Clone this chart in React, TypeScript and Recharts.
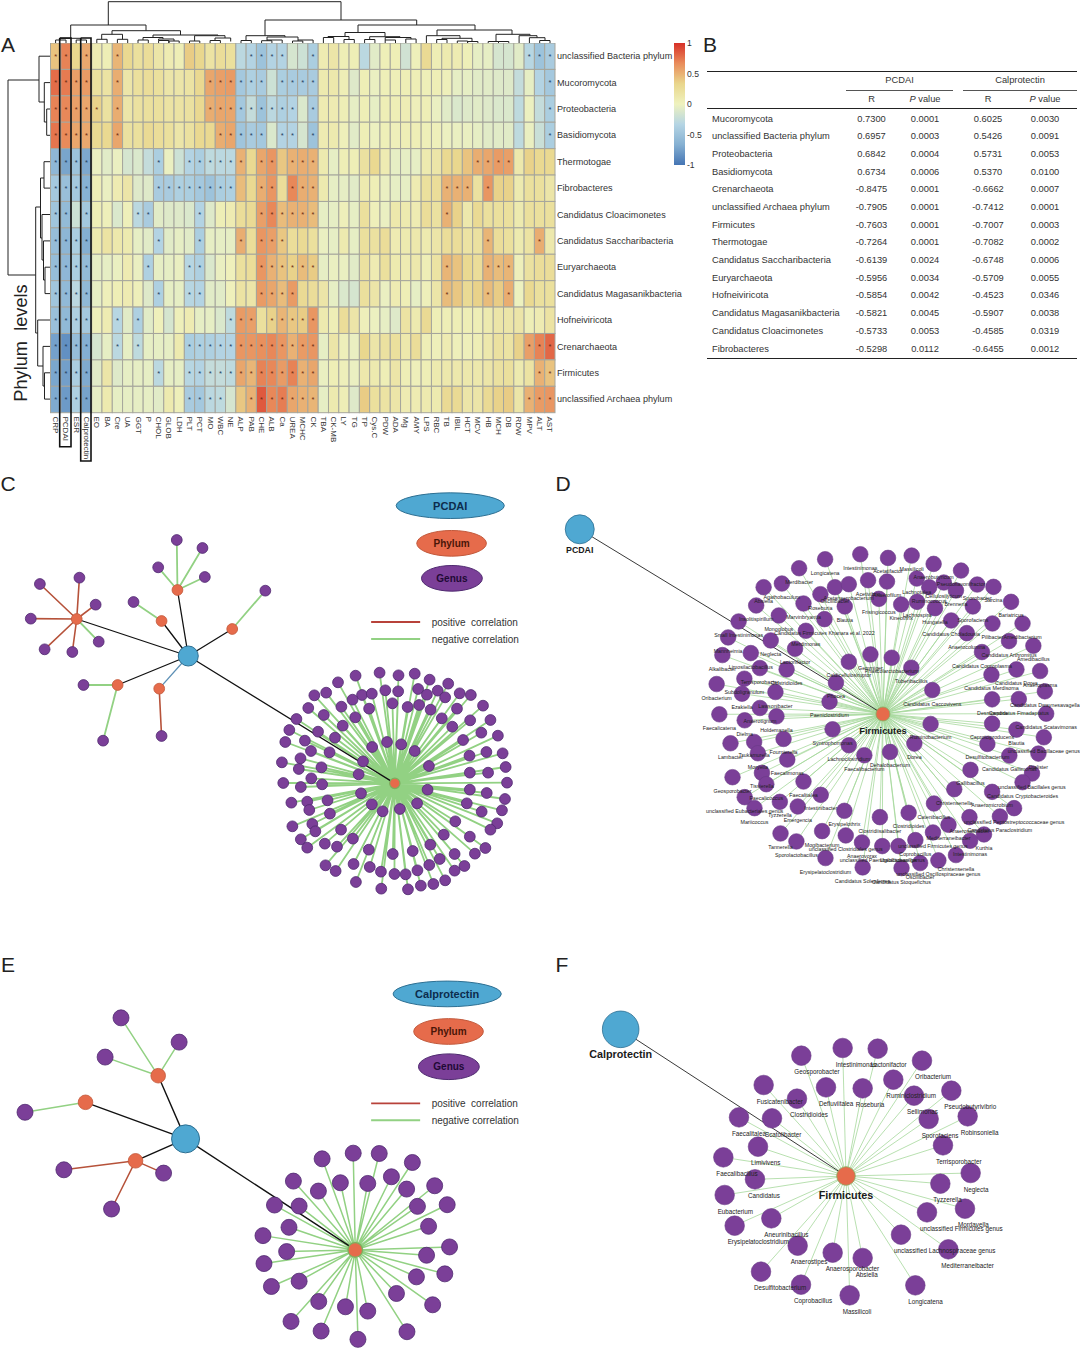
import {
  ComposedChart,
  Line,
  ReferenceArea,
  Scatter,
  ScatterChart,
  XAxis,
  YAxis,
} from "recharts";

const FONT = "'Liberation Sans', Arial, sans-serif";
const TEXT = "#333333";
const BLUE = "#4fa8d2";
const BLUE_EDGE = "#2d6f92";
const ORANGE = "#e66b4b";
const ORANGE_EDGE = "#c2583a";
const PURPLE = "#7b3f98";
const PURPLE_EDGE = "#4f2a70";
const GREEN = "#92d183";
const RED = "#b6523a";

// ---- panel A ----
const phyla = [
  "unclassified Bacteria phylum",
  "Mucoromycota",
  "Proteobacteria",
  "Basidiomycota",
  "Thermotogae",
  "Fibrobacteres",
  "Candidatus Cloacimonetes",
  "Candidatus Saccharibacteria",
  "Euryarchaeota",
  "Candidatus Magasanikbacteria",
  "Hofneiviricota",
  "Crenarchaeota",
  "Firmicutes",
  "unclassified Archaea phylum",
];

const indices = [
  "CRP", "PCDAI", "ESR", "Calprotectin", "EO", "BA", "Cre", "UA", "GGT", "P", "CHOL", "GLOB", "LDH",
  "PLT", "PCT", "MO", "WBC", "NE", "ALP", "PAB", "CHE", "ALB", "Ca", "UREA", "MCHC", "CK", "TBA",
  "CK-MB", "LY", "TG", "TP", "Cys.C", "PDW", "ADA", "Mg", "AMY", "LPS", "RBC", "TB", "IBIL", "HCT",
  "MCV", "HB", "MCH", "DB", "RDW", "MPV", "ALT", "AST",
];

// correlation x 100, one line per phylum
const corr = [
  [42, 70, 32, 54, 8, 5, 48, 30, 22, 25, 15, 8, 5, 38, 32, 18, 25, 22, -30, -35, -50, -35, -35, -15, -20, -40, 8, 15, 5, 5, -30, -8, 4, 5, -18, 3, 28, 6, 10, 8, 4, -5, -5, -15, -15, -8, -32, -50, -42],
  [78, 73, 58, 60, 22, 18, 52, 15, 22, 25, 22, 15, 15, 18, 30, 55, 58, 60, -45, -38, -42, -20, -40, -42, -42, -42, 10, 12, 5, -10, 5, -3, 4, 4, 5, 5, 4, 5, 3, -5, -5, -8, -8, -10, -10, -25, -5, -35, -45],
  [70, 68, 58, 55, 35, 20, 52, 15, 20, 22, 22, 18, 18, 20, 30, 52, 55, 55, -45, -25, -50, -30, -38, -35, -12, -42, 8, 8, 5, -5, 5, -5, 5, 5, 6, 3, 5, -3, -8, -12, -10, -8, -10, -12, -12, -28, -2, -25, -40],
  [75, 67, 55, 54, 30, 30, 55, 20, 22, 28, 25, 22, 15, 20, 30, 30, 52, 55, -48, -42, -45, -12, -35, -35, -15, -50, 8, 10, 3, -8, 5, -2, 4, 3, 5, 5, 4, 3, -2, -3, -3, -5, -8, -8, -8, -28, -3, -22, -40],
  [-60, -73, -50, -71, -3, -8, -3, -15, -12, -25, -40, -3, -20, -35, -40, -28, -30, -30, 50, 30, 55, 62, 40, 50, 52, 50, 10, -5, 5, 5, 20, 30, 8, -5, -5, -5, 10, 15, 30, 32, 42, 52, 55, 60, 58, 12, 35, 30, 30],
  [-45, -53, -45, -65, 5, -3, 8, 15, -10, -10, -42, -42, -38, -40, -45, -50, -40, -38, 45, 30, 52, 62, 25, 68, 52, 50, 10, -5, -5, -8, 10, 5, -3, -5, -5, 8, 22, 25, 50, 50, 50, 20, 62, 35, 35, 10, 22, 22, 15],
  [-48, -57, -20, -46, 5, 3, -12, 3, -30, -42, -8, -10, -10, -12, -35, -10, 5, 8, 25, 28, 58, 68, 45, 50, 50, 45, -5, -5, 3, -5, 22, 3, -3, 12, 10, 8, 25, 20, 50, 35, 12, 28, 22, 22, 22, 10, 22, 22, 22],
  [-55, -61, -40, -67, 10, 18, 12, 10, -5, -8, -35, -8, -5, -8, -40, -5, -5, -5, 52, 25, 62, 58, 40, 25, 28, 22, -3, -5, 10, -5, 22, 20, 25, 8, 10, 12, 10, 15, 25, 25, 18, 20, 48, 25, 22, 10, 18, 52, 12],
  [-55, -60, -40, -57, -5, -5, -3, 8, -3, -38, -5, -5, -3, -32, -38, -12, -3, 2, 22, 25, 62, 50, 42, 35, 45, 38, -5, -3, -3, -8, 20, 8, 22, 10, 8, 12, 5, 18, 48, 42, 30, 25, 50, 45, 48, 3, 20, 25, 25],
  [-48, -58, -30, -59, -5, 3, 5, 8, 3, -10, -38, -5, -5, -32, -35, -8, -8, 2, 18, 15, 60, 55, 45, 60, 28, 25, 15, -5, -12, -15, 22, 15, -3, 8, 5, -5, 3, 15, 45, 40, 28, 35, 45, 38, 52, -1, 30, 22, 22],
  [-52, -59, -38, -45, 3, 8, -32, -8, -38, -8, 2, -15, 3, 8, -5, -5, -12, -28, 60, 58, 22, 35, 48, 40, 38, 62, 10, 5, 25, 15, 3, -2, -5, -10, 18, 10, 28, 5, 5, 5, 5, 5, 10, 15, 15, 15, 5, 8, 18],
  [-75, -85, -55, -67, -15, -5, -30, -5, -28, -5, -5, -5, 10, -40, -38, -38, -35, -35, 62, 62, 65, 68, 62, 50, 60, 62, -5, 15, 3, -3, 32, 15, 20, 22, 12, 25, 5, 3, 8, 3, 3, 5, 12, 20, 18, 35, 58, 70, 80],
  [-72, -76, -40, -70, -8, 15, -10, -5, -5, -5, -30, -5, -5, -32, -35, -25, -25, -28, 55, 48, 70, 68, 60, 70, 50, 55, -3, 5, 3, -3, 12, 10, 5, 15, 5, 3, 5, 10, 12, 12, 12, 12, 15, 20, 22, 10, 18, 50, 42],
  [-70, -79, -38, -74, -5, 10, -5, -5, -5, -5, -8, 10, 3, -42, -45, -30, -28, -15, 40, 50, 85, 68, 72, 55, 50, 48, -5, 10, 5, -10, 38, 22, 18, 15, 8, 8, 10, 10, 28, 28, 15, 15, 28, 35, 38, 15, 50, 60, 62],
];

// columns carrying a star, per phylum
const starred = [
  [0, 1, 3, 6, 19, 20, 21, 22, 25, 46, 47, 48],
  [0, 1, 2, 3, 6, 15, 16, 17, 18, 19, 20, 22, 23, 24, 25, 48],
  [0, 1, 2, 3, 4, 6, 15, 16, 17, 18, 19, 20, 21, 22, 23, 25, 48],
  [0, 1, 2, 3, 6, 16, 17, 18, 19, 20, 22, 23, 25, 48],
  [0, 1, 2, 3, 10, 13, 14, 15, 16, 17, 18, 20, 21, 23, 24, 25, 41, 42, 43, 44],
  [0, 1, 2, 3, 10, 11, 12, 13, 14, 15, 16, 17, 20, 21, 23, 24, 25, 38, 39, 40, 42],
  [0, 1, 3, 8, 9, 14, 20, 21, 22, 23, 24, 25, 38],
  [0, 1, 2, 3, 10, 14, 18, 20, 21, 22, 42, 47],
  [0, 1, 2, 3, 9, 13, 14, 20, 21, 22, 23, 24, 25, 38, 42, 43, 44],
  [0, 1, 2, 3, 10, 13, 14, 20, 21, 22, 23, 38, 42, 44],
  [0, 1, 2, 3, 6, 8, 17, 18, 19, 21, 22, 23, 24, 25],
  [0, 1, 2, 3, 6, 8, 13, 14, 15, 16, 17, 18, 19, 20, 21, 22, 23, 24, 25, 46, 47, 48],
  [0, 1, 2, 3, 10, 13, 14, 15, 16, 17, 18, 19, 20, 21, 22, 23, 24, 25, 47, 48],
  [0, 1, 2, 3, 13, 14, 15, 16, 19, 20, 21, 22, 23, 24, 25, 46, 47, 48],
];

const colorStops = ["#4575b4", "#85b0d2", "#b5d5e4", "#eff2be", "#e9d68c", "#e98c5b", "#d73027"];
const colorbarTicks = [-1, -0.5, 0, 0.5, 1];

// [x left, x right, y bar, y left foot, y right foot]
const topTree = [
  [108.3, 341, 1.7, 25, 20],
  [70.7, 146, 25, 38.3, 30.7],
  [60, 81, 38.3, 40, 40],
  [55.6, 66, 40, 43, 43],
  [76.2, 86.5, 40, 43, 43],
  [112, 180.5, 30.7, 34.3, 35],
  [101.7, 122.5, 34.3, 39.3, 39.3],
  [96.8, 107.1, 39.3, 43, 43],
  [117.4, 127.7, 39.3, 43, 43],
  [153, 218, 35, 37.5, 35.7],
  [143, 163, 37.5, 40, 39],
  [138, 148.3, 40, 43, 43],
  [158.6, 174, 39, 40.5, 41],
  [158.6, 168.9, 40.5, 43, 43],
  [168.9, 179.2, 41, 43, 43],
  [194.6, 225, 35.7, 41, 38],
  [189.5, 199.8, 41, 43, 43],
  [215, 230.7, 38, 40.5, 41.5],
  [210.1, 220.4, 40.5, 43, 43],
  [265, 416.7, 20, 35.7, 25],
  [246, 285, 35.7, 40.5, 37],
  [241, 251.3, 40.5, 43, 43],
  [267, 298, 37, 40, 40],
  [261.6, 271.9, 40.7, 43, 43],
  [282.2, 267, 40, 43, 40.7],
  [292.5, 302.8, 41, 43, 43],
  [298, 313.1, 40, 41, 43],
  [358, 475, 25, 32.5, 30],
  [345, 385, 32.5, 36.5, 36.5],
  [328, 349, 36.5, 37.5, 39.5],
  [323.4, 333.7, 37.5, 43, 43],
  [344, 354.3, 39.5, 43, 43],
  [369.7, 400, 36.7, 39.5, 37.5],
  [364.6, 374.9, 39.5, 43, 43],
  [385.2, 411, 37.5, 40, 39],
  [385.2, 395.5, 40, 43, 43],
  [405.8, 416.1, 39, 43, 43],
  [437, 512, 30, 35.7, 34.3],
  [426.4, 460, 35.7, 43, 38.3],
  [442, 472, 38.3, 39.5, 41.5],
  [436.7, 447, 39.5, 43, 43],
  [457.3, 467.6, 41, 43, 43],
  [467.6, 477.9, 41.5, 43, 43],
  [496, 530, 34.3, 41, 35.7],
  [488.2, 498.5, 41.5, 43, 43],
  [498.5, 508.8, 41.5, 43, 43],
  [519.1, 537, 35.7, 43, 37.7],
  [529.4, 545, 37.7, 43, 40.5],
  [539.7, 550, 40.5, 43, 43],
];

// [y top, y bottom, x bar, x top foot, x bottom foot]
const leftTree = [
  [80, 275, 8, 39, 35.7],
  [56.2, 102, 39, 50, 44.3],
  [82.6, 122, 44.3, 50, 46.7],
  [109, 135.3, 46.7, 50, 50],
  [207, 333, 35.7, 40.5, 37.7],
  [178, 238, 40.5, 44, 42],
  [161.7, 188.1, 44, 50, 50],
  [214.5, 260, 42, 50, 43.5],
  [240.9, 280, 43.5, 50, 45],
  [267.2, 293.6, 45, 50, 50],
  [320, 366, 37.7, 50, 43],
  [346.4, 386, 43, 50, 44.5],
  [372.8, 399.1, 44.5, 50, 50],
];

// outlines around the PCDAI and Calprotectin columns
const columnBoxes = [
  [59.7, 71, 38, 446.7],
  [80.7, 91, 38, 461],
];

// ---- panel B ----
const tablePhyla = [
  "Mucoromycota", "unclassified Bacteria phylum", "Proteobacteria", "Basidiomycota", "Crenarchaeota",
  "unclassified Archaea phylum", "Firmicutes", "Thermotogae", "Candidatus Saccharibacteria", "Euryarchaeota",
  "Hofneiviricota", "Candidatus Magasanikbacteria", "Candidatus Cloacimonetes", "Fibrobacteres",
];
const pcdaiR = ["0.7300", "0.6957", "0.6842", "0.6734", "-0.8475", "-0.7905", "-0.7603", "-0.7264", "-0.6139", "-0.5956", "-0.5854", "-0.5821", "-0.5733", "-0.5298"];
const pcdaiP = ["0.0001", "0.0003", "0.0004", "0.0006", "0.0001", "0.0001", "0.0001", "0.0001", "0.0024", "0.0034", "0.0042", "0.0045", "0.0053", "0.0112"];
const calR = ["0.6025", "0.5426", "0.5731", "0.5370", "-0.6662", "-0.7412", "-0.7007", "-0.7082", "-0.6748", "-0.5709", "-0.4523", "-0.5907", "-0.4585", "-0.6455"];
const calP = ["0.0030", "0.0091", "0.0053", "0.0100", "0.0007", "0.0001", "0.0003", "0.0002", "0.0006", "0.0055", "0.0346", "0.0038", "0.0319", "0.0012"];

// ---- panel C ----
const cHub = [557, 558];
const cPhylum1 = [227, 447];
const cPhylum1Red = [[118, 342], [235, 323], [283, 404], [91, 446], [214, 546], [132, 538]];
const cPhylum1Green = [[292, 515]];
const cPhylum2 = [525, 360];
const cPhylum2Leaves = [[523, 210], [599, 234], [468, 292], [606, 321]];
const cPhylum3 = [478, 453];
const cPhylum3Leaves = [[395, 396]];
const cPhylum4 = [687, 477];
const cPhylum4Leaves = [[785, 362]];
const cPhylum5 = [348, 645];
const cPhylum5Leaves = [[247, 645], [305, 812]];
const cPhylum6 = [471, 656];
const cPhylum6Leaves = [[478, 798]];
const cFirmicutes = [1168, 940];
const cFirmicutesLeaves = [
  [1123, 608], [1179, 616], [1227, 611], [1052, 617], [1271, 629], [1326, 641], [1000, 637],
  [930, 676], [965, 668], [1071, 675], [1100, 671], [1140, 661], [1178, 664], [1237, 657], [1263, 674], [1295, 662], [1317, 682], [1360, 670], [1393, 675],
  [1043, 689], [1161, 700], [912, 714], [1010, 710], [1092, 716], [1206, 711], [1240, 705], [1274, 719], [1352, 716], [1429, 707],
  [958, 735], [1051, 742], [1307, 745], [1391, 751], [1451, 750], [877, 747],
  [1014, 767], [1338, 770], [856, 780], [941, 785], [1424, 788], [1473, 797],
  [844, 816], [902, 812], [991, 803], [1370, 810], [1145, 816], [1187, 823], [1101, 831], [1227, 843],
  [920, 843], [975, 847], [1439, 846], [1487, 850], [1389, 857],
  [889, 865], [834, 877], [1074, 874], [884, 897], [951, 892], [1269, 888], [1496, 891],
  [1061, 913], [1390, 908], [1444, 908],
  [921, 925], [838, 939], [953, 943], [890, 951], [1500, 938], [1390, 959], [1265, 959],
  [1068, 970], [1440, 969], [1494, 987], [969, 991], [909, 995], [862, 998], [1381, 1000], [1234, 1000],
  [1100, 1003], [915, 1020], [976, 1031], [1132, 1024], [1183, 1017], [1425, 1025], [1485, 1021],
  [1347, 1054], [924, 1062], [865, 1069], [1471, 1060], [933, 1084], [1451, 1079], [1009, 1079],
  [1313, 1094], [1390, 1100], [890, 1108], [1044, 1106], [961, 1121], [909, 1133], [997, 1130], [1273, 1124], [1436, 1134],
  [1091, 1139], [1162, 1152], [1221, 1143], [1405, 1151], [1345, 1152], [1301, 1167],
  [963, 1186], [1046, 1182], [993, 1203], [1094, 1191], [1270, 1185], [1374, 1188], [1345, 1202], [1127, 1205], [1167, 1212], [1200, 1213], [1235, 1201],
  [1053, 1236], [1128, 1256], [1207, 1258], [1245, 1247], [1282, 1242], [1317, 1231],
];

// ---- panel D ----
const dHub = [88, 88];
const dFirmicutes = [985, 643];
const dGenera: [number, number, string][] = [
  [814, 178, "Longicatena"], [918, 163, "Intestinimonas"], [1000, 174, "Acetatifactor"], [1070, 167, "Massilicoli"],
  [1135, 192, "Anaerobutyricum"], [1216, 212, "Pseudoflavonifractor"], [737, 205, "Merdibacter"], [686, 251, "Agathobaculum"],
  [632, 262, "Absiella"], [843, 262, "Oscillibacter"], [884, 253, "Acetanaerobacterium"], [941, 241, "Acetivibrio"],
  [997, 245, "Anaerofilum"], [800, 283, "Roseburia"], [1085, 236, "Lachnotalea"], [1122, 262, "Ruminococcus"],
  [1165, 248, "Cellulosilyticum"], [1201, 272, "Brenneria"], [1264, 254, "Sporobacter"], [1312, 261, "Sarcina"],
  [610, 317, "Insolitispirillum"], [750, 311, "Marvinbryantia"], [872, 320, "Blautia"], [973, 297, "Frisingicoccus"],
  [1039, 314, "Kineothrix"], [1086, 306, "Lachnospira"], [1139, 325, "Hungatella"], [1251, 320, "Sporofaciens"],
  [1364, 306, "Bariatricus"], [677, 347, "Monoglobus"], [812, 358, "Candidatus Firmicutes Khanara et al. 2022"], [558, 365, "Small Intestinimonas"],
  [1187, 362, "Candidatus Choladousia"], [757, 393, "Merdimonas"], [1309, 371, "Pilibacter"], [1398, 371, "Amedibacterium"],
  [1233, 400, "Anaerocolumna"], [527, 413, "Mannheimia"], [653, 422, "Neglecta"], [725, 447, "Lactonifactor"],
  [1358, 424, "Candidatus Arthromitus"], [1430, 438, "Amedibacillus"], [510, 466, "Alkalibacter"], [594, 460, "Limosilactobacillus"],
  [1278, 457, "Candidatus Coproplasma"], [884, 486, "Caldicellulosiruptor"], [948, 464, "Gemmiger"], [1011, 474, "Phascolarctobacterium"],
  [1069, 504, "Tuberibacillus"], [621, 505, "Terrisporobacter"], [700, 509, "Clostridioides"], [1380, 509, "Candidatus Dorea"],
  [1450, 514, "Anaeroplasma"], [1306, 525, "Candidatus Merdisoma"], [575, 537, "Subdoligranulum"], [846, 549, "Phocea"],
  [493, 553, "Oribacterium"], [667, 577, "Lawsonibacter"], [1131, 571, "Candidatus Caccovivens"], [568, 582, "Ezakiella"],
  [1464, 575, "Candidatus Dwaynesavagella"], [1308, 599, "Desmospora"], [1387, 598, "Candidatus Fimadaptatus"], [827, 606, "Paeniclostridium"],
  [621, 625, "Anaerotignum"], [670, 650, "Holdemanella"], [501, 644, "Faecalicatena"], [1468, 642, "Candidatus Scatavimonas"],
  [576, 662, "Dielma"], [1308, 672, "Caproiciproducens"], [1126, 673, "Ruminobacterium"], [1380, 690, "Blautia"],
  [836, 689, "Syntrophomonas"], [691, 718, "Fournierella"], [534, 731, "Lambacter"], [604, 727, "Tsukamurella"],
  [1461, 713, "unclassified Bacillaceae genus"], [884, 737, "Lachnoclostridium"], [1078, 732, "Dorea"], [1294, 733, "Desulfitobacterium"],
  [615, 761, "Moryella"], [1006, 757, "Dehalobacterium"], [930, 767, "Faecalibacterium"], [702, 780, "Faecalimonas"],
  [1359, 768, "Candidatus Gallimonas"], [1445, 762, "Dialister"], [1244, 811, "Gallibacillus"], [540, 833, "Geosporobacter"],
  [627, 820, "Tissierella"], [1426, 822, "unclassified Bacillales genus"], [640, 854, "Faecalicoccus"], [750, 846, "Faecalitalea"],
  [1398, 848, "Candidatus Cryptobacteroides"], [1196, 869, "Christensenella"], [1308, 877, "Anaeromicrobium"], [801, 886, "Intestinibacter"],
  [576, 893, "unclassified Eubacteriales genus"], [680, 907, "Tyzzerella"], [1373, 926, "unclassified Peptostreptococcaceae genus"], [1136, 912, "Catenibacillus"],
  [733, 921, "Emergencia"], [605, 926, "Mariicoccus"], [871, 934, "Erysipelothrix"], [1061, 940, "Clostridioides"],
  [1331, 951, "Candidatus Paraclostridium"], [976, 953, "Clostridiisalibacter"], [1241, 953, "Anaerosalibacter"], [1179, 976, "Mediterraneibacter"],
  [682, 1002, "Tannerella"], [805, 995, "Mogibacterium"], [875, 1008, "unclassified Clostridiales genus"], [1133, 999, "unclassified Firmicutes genus"],
  [1284, 1005, "Kurthia"], [729, 1026, "Sporolactobacillus"], [923, 1029, "Anaerovorax"], [1243, 1024, "Intestinimonas"],
  [1081, 1022, "Coprobacillus"], [983, 1040, "unclassified Paenibacillaceae genus"], [1031, 1040, "Ligilactobacillus"], [1201, 1067, "Christensenella"],
  [815, 1076, "Erysipelatoclostridium"], [1149, 1083, "unclassified Oscillospiraceae genus"], [1095, 1091, "Oscillibacter"], [925, 1104, "Candidatus Soleaferrea"],
  [1040, 1106, "Candidatus Stoquefichus"],
];

// ---- panel E ----
const eHub = [549, 538];
const ePhylum1 = [468, 348];
const ePhylum1Leaves = [[358, 174], [530, 247], [311, 292]];
const ePhylum2 = [253, 428];
const ePhylum2Leaves = [[74, 458]];
const ePhylum3 = [401, 604];
const ePhylum3Leaves = [[189, 631], [484, 641], [330, 749]];
const eFirmicutes = [1051, 872];
const eFirmicutesLeaves = [
  [953, 598], [1045, 581], [1122, 582], [1220, 609], [868, 665], [1007, 670], [1088, 672], [1158, 652], [942, 695], [1203, 689], [1286, 679],
  [812, 737], [885, 740], [1235, 741], [1323, 736], [855, 804], [1268, 801], [778, 829], [848, 877], [1330, 863], [1262, 888], [781, 913],
  [885, 966], [1232, 953], [1316, 944], [803, 982], [1173, 1003], [943, 1027], [1022, 1043], [1088, 1056], [1280, 1037], [861, 1087], [950, 1116], [1059, 1141], [1204, 1118],
];

// ---- panel F ----
const fHub = [182, 88];
const fFirmicutes = [858, 528];
const fGenera: [number, number, string][] = [
  [724, 167, "Geosporobacter"], [848, 144, "Intestinimonas"], [953, 146, "Lactonifactor"], [1086, 182, "Oribacterium"],
  [611, 255, "Fusicatenibacter"], [711, 296, "Clostridioides"], [798, 262, "Defluviitalea"], [908, 265, "Roseburia"],
  [1000, 239, "Ruminiclostridium"], [1062, 287, "Sellimonas"], [1174, 272, "Pseudobutyrivibrio"], [537, 352, "Faecalitalea"],
  [636, 355, "Scatolibacter"], [1106, 357, "Sporofaciens"], [1223, 349, "Robinsoniella"], [594, 440, "Limivivens"],
  [490, 472, "Faecalibacillus"], [1149, 436, "Terrisporobacter"], [585, 538, "Candidatus"], [1232, 519, "Neglecta"],
  [494, 585, "Eubacterium"], [1141, 551, "Tyzzerella"], [634, 655, "Aneurinibacillus"], [524, 677, "Erysipelatoclostridium"],
  [1101, 637, "unclassified Firmicutes genus"], [1215, 626, "Mordavella"], [713, 737, "Anaerostipes"], [1023, 704, "unclassified Lachnospiraceae genus"],
  [818, 758, "Anaerosporobacter"], [908, 774, "Absiella"], [1165, 748, "Mediterraneibacter"], [603, 815, "Desulfitobacterium"],
  [723, 854, "Coprobacillus"], [869, 886, "Massilicoli"], [1066, 856, "Longicatena"],
];

// letters and rotated title, page pixels
const pageLabels: [number, number, string][] = [
  [8, 44, "A"], [710, 44, "B"], [8, 483, "C"], [563, 483, "D"], [8, 964, "E"], [562, 964, "F"],
];

function mix(a: string, b: string, t: number) {
  const ch = (s: string, i: number) => parseInt(s.slice(i, i + 2), 16);
  const part = (i: number) => Math.round(ch(a, i) + (ch(b, i) - ch(a, i)) * t);
  return `rgb(${part(1)},${part(3)},${part(5)})`;
}

function corrColor(v: number) {
  const p = ((Math.max(-1, Math.min(1, v)) + 1) / 2) * (colorStops.length - 1);
  const i = Math.min(Math.floor(p), colorStops.length - 2);
  return mix(colorStops[i], colorStops[i + 1], p - i);
}

const pts = (list: number[][]) => list.map(([x, y]) => ({ x, y }));

// hub -> each leaf, with a null point to lift the pen
function star(center: number[], leaves: number[][]) {
  return leaves.flatMap(([x, y]) => [
    { x: center[0], y: center[1] },
    { x, y },
    { x, y: null as number | null },
  ]);
}

const dot = (r: number, fill: string, stroke: string, sw = 1) => (p: any) =>
  <circle cx={p.cx} cy={p.cy} r={r} fill={fill} stroke={stroke} strokeWidth={sw} />;

const edge = (data: any[], stroke: string, width: number, key: string) => (
  <Line
    key={key}
    data={data}
    dataKey="y"
    stroke={stroke}
    strokeWidth={width}
    dot={false}
    activeDot={false}
    connectNulls={false}
    isAnimationActive={false}
    legendType="none"
  />
);

const axes = (w: number, h: number) => [
  <XAxis key="x" hide type="number" dataKey="x" domain={[0, w]} allowDataOverflow />,
  <YAxis key="y" hide type="number" dataKey="y" domain={[0, h]} reversed allowDataOverflow />,
];

const chartBox = (left: number, top: number): React.CSSProperties => ({ position: "absolute", left, top });

function Heatmap() {
  const cellW = 504.5 / indices.length;
  const cellH = 369.7 / phyla.length;
  const cells = corr.flatMap((row, r) => row.map((v, c) => ({ c, r, v: v / 100 })));
  const stars = starred.flatMap((cols, r) => cols.map((c) => ({ c, r, v: corr[r][c] })));
  return (
    <div style={chartBox(50, 43)}>
      <ScatterChart width={640} height={420} margin={{ top: 0, right: 0, bottom: 0, left: 0.5 }}>
        <XAxis
          type="number"
          dataKey="c"
          domain={[-0.5, 48.5]}
          ticks={indices.map((_, i) => i)}
          interval={0}
          height={50.3}
          axisLine={false}
          tickLine={false}
          tick={(p: any) => (
            <text
              x={p.x}
              y={p.y}
              transform={`rotate(90 ${p.x} ${416.5 - 43}) translate(0 ${416.5 - 43 - p.y})`}
              textAnchor="start"
              dominantBaseline="central"
              fontSize={8}
              fill={TEXT}
              fontFamily={FONT}
            >
              {indices[p.payload.value]}
            </text>
          )}
        />
        <YAxis
          type="number"
          dataKey="r"
          orientation="right"
          reversed
          domain={[-0.5, 13.5]}
          ticks={phyla.map((_, i) => i)}
          interval={0}
          width={135}
          axisLine={false}
          tickLine={false}
          tick={(p: any) => (
            <text x={p.x - 6} y={p.y} dominantBaseline="central" fontSize={9.1} fill={TEXT} fontFamily={FONT}>
              {phyla[p.payload.value]}
            </text>
          )}
        />
        <Scatter
          data={cells}
          isAnimationActive={false}
          shape={(p: any) => (
            <rect
              x={p.cx - cellW / 2}
              y={p.cy - cellH / 2}
              width={cellW}
              height={cellH}
              fill={corrColor(p.payload.v)}
              stroke="#a5a59c"
              strokeWidth={1}
            />
          )}
        />
        <Scatter
          data={stars}
          isAnimationActive={false}
          shape={(p: any) => (
            <text
              x={p.cx}
              y={p.cy + 2.8}
              textAnchor="middle"
              fontSize={7.5}
              fill={p.payload.v < 0 ? "#23405f" : "#6b2a10"}
              fontFamily={FONT}
            >
              *
            </text>
          )}
        />
      </ScatterChart>
    </div>
  );
}

function Colorbar() {
  return (
    <div style={chartBox(674, 37)}>
      <ComposedChart width={44} height={134} margin={{ top: 6, right: 0, bottom: 6, left: 0 }} data={[{ x: 0, y: 0 }]}>
        <defs>
          <linearGradient id="corrRamp" x1="0" y1="1" x2="0" y2="0">
            {colorStops.map((c, i) => (
              <stop key={c} offset={i / (colorStops.length - 1)} stopColor={c} />
            ))}
          </linearGradient>
        </defs>
        <XAxis hide type="number" dataKey="x" domain={[0, 1]} />
        <YAxis
          type="number"
          dataKey="y"
          orientation="right"
          width={33}
          domain={[-1, 1]}
          ticks={colorbarTicks}
          interval={0}
          axisLine={false}
          tickLine={false}
          tickSize={0}
          tickMargin={2}
          tickFormatter={(v: number) => String(v)}
          tick={{ fontSize: 8.6, fill: TEXT, fontFamily: FONT }}
        />
        <ReferenceArea x1={0} x2={1} y1={-1} y2={1} fill="url(#corrRamp)" fillOpacity={1} stroke="none" />
      </ComposedChart>
    </div>
  );
}

// dendrograms, column outlines and the page letters sit on one page-sized chart
function PageOverlay() {
  const gap = (x: number) => ({ x, y: null as number | null });
  const topPath = topTree.flatMap(([xa, xb, bar, ya, yb]) => [
    { x: xa, y: ya }, { x: xa, y: bar }, { x: xb, y: bar }, { x: xb, y: yb }, gap(xb),
  ]);
  const leftPath = leftTree.flatMap(([ya, yb, bar, xa, xb]) => [
    { x: xa, y: ya }, { x: bar, y: ya }, { x: bar, y: yb }, { x: xb, y: yb }, gap(xb),
  ]);
  const boxPath = columnBoxes.flatMap(([xa, xb, ya, yb]) => [
    { x: xa, y: ya }, { x: xb, y: ya }, { x: xb, y: yb }, { x: xa, y: yb }, { x: xa, y: ya }, gap(xa),
  ]);
  const letters = pageLabels.map(([x, y, t]) => ({ x, y, t }));
  return (
    <div style={chartBox(0, 0)}>
      <ComposedChart width={1080} height={1350} margin={{ top: 0, right: 0, bottom: 0, left: 0 }}>
        {axes(1080, 1350)}
        {edge(topPath, "#222222", 1, "top")}
        {edge(leftPath, "#222222", 1, "left")}
        {edge(boxPath, "#111111", 1.6, "boxes")}
        <Scatter
          data={letters}
          isAnimationActive={false}
          shape={(p: any) => (
            <text x={p.cx} y={p.cy} textAnchor="middle" dominantBaseline="central" fontSize={21} fill="#222" fontFamily={FONT}>
              {p.payload.t}
            </text>
          )}
        />
        <Scatter
          data={[{ x: 21, y: 343 }]}
          isAnimationActive={false}
          shape={(p: any) => (
            <text
              x={p.cx}
              y={p.cy}
              transform={`rotate(-90 ${p.cx} ${p.cy})`}
              textAnchor="middle"
              dominantBaseline="central"
              fontSize={18.2}
              fill="#222"
              fontFamily={FONT}
              style={{ whiteSpace: "pre" }}
            >
              {"Phylum  levels"}
            </text>
          )}
        />
      </ComposedChart>
    </div>
  );
}

function StatsTable() {
  const cell: React.CSSProperties = { padding: 0, textAlign: "center", height: 17.7 };
  return (
    <table
      style={{
        position: "absolute",
        left: 707,
        top: 71,
        width: 370,
        tableLayout: "fixed",
        borderCollapse: "separate",
        borderSpacing: 0,
        fontFamily: FONT,
        fontSize: 9.3,
        color: TEXT,
        lineHeight: 1,
        borderTop: "1.2px solid #222",
        borderBottom: "1.2px solid #222",
      }}
    >
      <colgroup>
        <col style={{ width: 139 }} />
        <col style={{ width: 51 }} />
        <col style={{ width: 56 }} />
        <col style={{ width: 10 }} />
        <col style={{ width: 50 }} />
        <col style={{ width: 64 }} />
      </colgroup>
      <thead>
        <tr style={{ height: 18.6 }}>
          <th style={{ padding: 0 }} />
          <th colSpan={2} style={{ ...cell, fontWeight: 400, borderBottom: "1px solid #555" }}>PCDAI</th>
          <th style={{ padding: 0 }} />
          <th colSpan={2} style={{ ...cell, fontWeight: 400, borderBottom: "1px solid #555" }}>Calprotectin</th>
        </tr>
        <tr style={{ height: 18.6 }}>
          {["", "R", "P", "", "R", "P"].map((h, i) => (
            <th key={i} style={{ ...cell, fontWeight: 400, borderBottom: "1.5px solid #222" }}>
              {h === "P" ? (
                <span>
                  <i>P</i> value
                </span>
              ) : (
                h
              )}
            </th>
          ))}
        </tr>
        <tr style={{ height: 1 }}>
          <th style={{ padding: 0, height: 1 }} colSpan={6} />
        </tr>
      </thead>
      <tbody>
        {tablePhyla.map((name, i) => (
          <tr key={name}>
            <td style={{ ...cell, textAlign: "left", paddingLeft: 5, whiteSpace: "nowrap" }}>{name}</td>
            <td style={cell}>{pcdaiR[i]}</td>
            <td style={cell}>{pcdaiP[i]}</td>
            <td style={cell} />
            <td style={cell}>{calR[i]}</td>
            <td style={cell}>{calP[i]}</td>
          </tr>
        ))}
      </tbody>
    </table>
  );
}

// legend block shared by panels C and E (ellipses and the two line keys)
function legendParts(first: string, ys: number[], lineYs: number[], cx: number, k: number) {
  const ellipses = [
    { x: cx, y: ys[0], rx: 160, fill: BLUE, stroke: BLUE_EDGE, color: "#0d2c4d", t: first, s: 11 },
    { x: cx + 4, y: ys[1], rx: 103, fill: ORANGE, stroke: ORANGE_EDGE, color: "#4a1608", t: "Phylum", s: 10 },
    { x: cx + 5, y: ys[2], rx: 90, fill: PURPLE, stroke: PURPLE_EDGE, color: "#1f0a35", t: "Genus", s: 10 },
  ];
  const keys = [
    { x: 1277, y: lineYs[0], t: "positive  correlation" },
    { x: 1277, y: lineYs[1], t: "negative correlation" },
  ];
  return [
    edge([{ x: 1098, y: lineYs[0] }, { x: 1243, y: lineYs[0] }], "#b8423a", 1.8, "keyRed"),
    edge([{ x: 1098, y: lineYs[1] }, { x: 1243, y: lineYs[1] }], GREEN, 1.8, "keyGreen"),
    <Scatter
      key="ellipses"
      data={ellipses}
      isAnimationActive={false}
      shape={(p: any) => (
        <g>
          <ellipse cx={p.cx} cy={p.cy} rx={p.payload.rx * k} ry={38 * k} fill={p.payload.fill} stroke={p.payload.stroke} />
          <text x={p.cx} y={p.cy} textAnchor="middle" dominantBaseline="central" fontSize={p.payload.s} fontWeight={700} fill={p.payload.color} fontFamily={FONT}>
            {p.payload.t}
          </text>
        </g>
      )}
    />,
    <Scatter
      key="keys"
      data={keys}
      isAnimationActive={false}
      shape={(p: any) => (
        <text x={p.cx} y={p.cy} dominantBaseline="central" fontSize={10} fill={TEXT} fontFamily={FONT} style={{ whiteSpace: "pre" }}>
          {p.payload.t}
        </text>
      )}
    />,
  ];
}

function PanelC() {
  const k = 530 / 1568;
  const phylumNodes = [cPhylum1, cPhylum2, cPhylum3, cPhylum4, cPhylum5, cPhylum6];
  const greenEdges = [
    ...star(cFirmicutes, cFirmicutesLeaves),
    ...star(cPhylum1, cPhylum1Green),
    ...star(cPhylum2, cPhylum2Leaves),
    ...star(cPhylum3, cPhylum3Leaves),
    ...star(cPhylum4, cPhylum4Leaves),
    ...star(cPhylum5, cPhylum5Leaves),
  ];
  const redEdges = [...star(cPhylum1, cPhylum1Red), ...star(cPhylum6, cPhylum6Leaves)];
  const blackEdges = star(cHub, [cPhylum1, cPhylum2, cPhylum3, cPhylum4, cPhylum5, cFirmicutes]);
  const leaves = [
    ...cPhylum1Red, ...cPhylum1Green, ...cPhylum2Leaves, ...cPhylum3Leaves, ...cPhylum4Leaves,
    ...cPhylum5Leaves, ...cPhylum6Leaves, ...cFirmicutesLeaves,
  ];
  return (
    <div style={chartBox(0, 470)}>
      <ComposedChart width={530} height={440} margin={{ top: 0, right: 0, bottom: 0, left: 0 }}>
        {axes(1568, 1320)}
        {edge(greenEdges, GREEN, 1.8, "green")}
        {edge(redEdges, RED, 1.6, "red")}
        {edge(blackEdges, "#111111", 1.3, "black")}
        {edge(star(cHub, [cPhylum6]), "#5b8fb5", 1.3, "blue")}
        <Scatter data={pts(leaves)} isAnimationActive={false} shape={dot(5.4, PURPLE, PURPLE_EDGE, 0.8)} />
        <Scatter data={pts(phylumNodes)} isAnimationActive={false} shape={dot(5.4, ORANGE, ORANGE_EDGE, 0.8)} />
        <Scatter data={pts([cFirmicutes])} isAnimationActive={false} shape={dot(5.2, ORANGE, "#7cae5e", 1.2)} />
        <Scatter data={pts([cHub])} isAnimationActive={false} shape={dot(10, BLUE, BLUE_EDGE, 1)} />
        {legendParts("PCDAI", [107, 220, 325], [456, 507], 1332, k)}
      </ComposedChart>
    </div>
  );
}

function PanelD() {
  const nodes = dGenera.map(([x, y, t]) => ({ x, y, t }));
  return (
    <div style={chartBox(550, 500)}>
      <ComposedChart width={530} height={400} margin={{ top: 0, right: 0, bottom: 0, left: 0 }}>
        {axes(1568, 1202)}
        {edge(star(dFirmicutes, dGenera), "#a6d89c", 0.8, "green")}
        {edge(star(dHub, [dFirmicutes]), "#222222", 0.9, "black")}
        <Scatter data={nodes} isAnimationActive={false} shape={dot(7.8, PURPLE, "#6a3a86", 0.6)} />
        <Scatter data={pts([dFirmicutes])} isAnimationActive={false} shape={dot(7, ORANGE, "#8aa860", 0.8)} />
        <Scatter data={pts([dHub])} isAnimationActive={false} shape={dot(14.5, BLUE, BLUE_EDGE, 0.8)} />
        <Scatter
          data={nodes}
          isAnimationActive={false}
          shape={(p: any) => (
            <text x={p.cx} y={p.cy + 13.5} textAnchor="middle" dominantBaseline="central" fontSize={5.3} fill="#222" fontFamily={FONT}>
              {p.payload.t}
            </text>
          )}
        />
        <Scatter
          data={[{ x: dHub[0], y: 150, t: "PCDAI", s: 8.8 }, { x: dFirmicutes[0], y: 693, t: "Firmicutes", s: 9.4 }]}
          isAnimationActive={false}
          shape={(p: any) => (
            <text x={p.cx} y={p.cy} textAnchor="middle" dominantBaseline="central" fontSize={p.payload.s} fontWeight={700} fill="#1a1a1a" fontFamily={FONT}>
              {p.payload.t}
            </text>
          )}
        />
      </ComposedChart>
    </div>
  );
}

function PanelE() {
  const k = 530 / 1568;
  const phylumNodes = [ePhylum1, ePhylum2, ePhylum3];
  const greenEdges = [
    ...star(eFirmicutes, eFirmicutesLeaves),
    ...star(ePhylum1, ePhylum1Leaves),
    ...star(ePhylum2, ePhylum2Leaves),
  ];
  const leaves = [...ePhylum1Leaves, ...ePhylum2Leaves, ...ePhylum3Leaves, ...eFirmicutesLeaves];
  return (
    <div style={chartBox(0, 960)}>
      <ComposedChart width={530} height={390} margin={{ top: 0, right: 0, bottom: 0, left: 0 }}>
        {axes(1568, 1173)}
        {edge(greenEdges, GREEN, 1.5, "green")}
        {edge(star(ePhylum3, ePhylum3Leaves), RED, 1.5, "red")}
        {edge(star(eHub, [...phylumNodes, eFirmicutes]), "#111111", 1.4, "black")}
        <Scatter data={pts(leaves)} isAnimationActive={false} shape={dot(8, PURPLE, PURPLE_EDGE, 0.8)} />
        <Scatter data={pts(phylumNodes)} isAnimationActive={false} shape={dot(7.3, ORANGE, ORANGE_EDGE, 0.8)} />
        <Scatter data={pts([eFirmicutes])} isAnimationActive={false} shape={dot(7.3, ORANGE, "#7cae5e", 1.2)} />
        <Scatter data={pts([eHub])} isAnimationActive={false} shape={dot(14, BLUE, BLUE_EDGE, 1)} />
        {legendParts("Calprotectin", [102, 215, 321], [431, 482], 1323, k)}
      </ComposedChart>
    </div>
  );
}

function PanelF() {
  const nodes = fGenera.map(([x, y, t]) => ({ x, y, t }));
  return (
    <div style={chartBox(560, 1000)}>
      <ComposedChart width={480} height={340} margin={{ top: 0, right: 0, bottom: 0, left: 0 }}>
        {axes(1440, 1020)}
        {edge(star(fFirmicutes, fGenera), "#a6d89c", 0.8, "green")}
        {edge(star(fHub, [fFirmicutes]), "#222222", 0.9, "black")}
        <Scatter data={nodes} isAnimationActive={false} shape={dot(9.8, PURPLE, "#6a3a86", 0.6)} />
        <Scatter data={pts([fFirmicutes])} isAnimationActive={false} shape={dot(9.3, ORANGE, "#8aa860", 0.8)} />
        <Scatter data={pts([fHub])} isAnimationActive={false} shape={dot(18.3, BLUE, BLUE_EDGE, 0.8)} />
        <Scatter
          data={nodes}
          isAnimationActive={false}
          shape={(p: any) => (
            <text x={p.cx - 7} y={p.cy + 16} dominantBaseline="central" fontSize={6.3} fill="#222" fontFamily={FONT}>
              {p.payload.t}
            </text>
          )}
        />
        <Scatter
          data={[{ x: fHub[0], y: 162, t: "Calprotectin" }, { x: fFirmicutes[0], y: 584, t: "Firmicutes" }]}
          isAnimationActive={false}
          shape={(p: any) => (
            <text x={p.cx} y={p.cy} textAnchor="middle" dominantBaseline="central" fontSize={10.8} fontWeight={700} fill="#1a1a1a" fontFamily={FONT}>
              {p.payload.t}
            </text>
          )}
        />
      </ComposedChart>
    </div>
  );
}

export default function App() {
  return (
    <div style={{ position: "absolute", left: 0, top: 0, width: 1080, height: 1350, background: "#fff", overflow: "hidden" }}>
      <Heatmap />
      <Colorbar />
      <PageOverlay />
      <StatsTable />
      <PanelC />
      <PanelD />
      <PanelE />
      <PanelF />
    </div>
  );
}
